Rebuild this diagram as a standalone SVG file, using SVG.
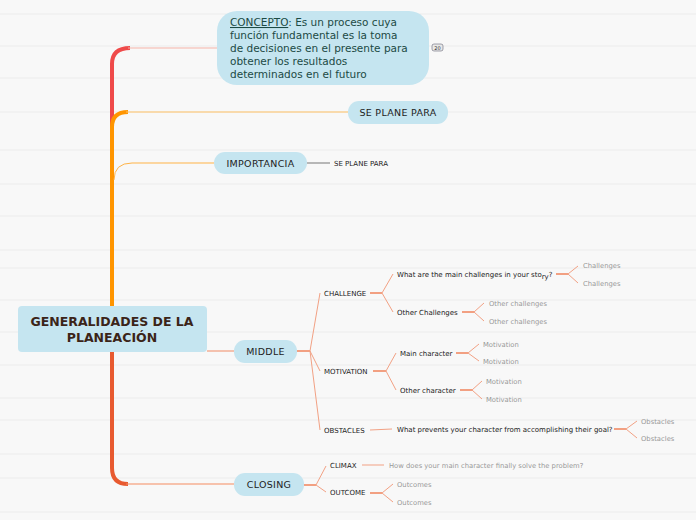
<svg xmlns="http://www.w3.org/2000/svg" width="696" height="520" viewBox="0 0 696 520">
<style>
text{font-family:"DejaVu Sans","Liberation Sans",sans-serif}
.n{fill:#c5e5f0}
.t1{font-size:9.5px;fill:#222;letter-spacing:0.3px}
.t2{font-size:7px;fill:#222}
.t3{font-size:6.8px;fill:#999}
.c{fill:none;stroke:#f2a184;stroke-width:1}
.cb{fill:none;stroke:#f08a64;stroke-width:1.6}
.bg{stroke:#ececec;stroke-width:1}
</style>
<rect width="696" height="520" fill="#f8f8f8"/>
<g id="bg">
<line class="bg" x1="0" y1="14" x2="696" y2="14"/><line class="bg" x1="0" y1="46" x2="696" y2="46"/>
<line class="bg" x1="0" y1="78" x2="696" y2="78"/><line class="bg" x1="0" y1="112" x2="696" y2="112"/>
<line class="bg" x1="0" y1="150" x2="696" y2="150"/><line class="bg" x1="0" y1="184" x2="696" y2="184"/>
<line class="bg" x1="0" y1="216" x2="696" y2="216"/><line class="bg" x1="0" y1="250" x2="696" y2="250"/>
<line class="bg" x1="0" y1="268" x2="696" y2="268"/><line class="bg" x1="0" y1="300" x2="696" y2="300"/>
<line class="bg" x1="0" y1="332" x2="696" y2="332"/><line class="bg" x1="0" y1="365" x2="696" y2="365"/>
<line class="bg" x1="0" y1="398" x2="696" y2="398"/><line class="bg" x1="0" y1="420" x2="696" y2="420"/>
<line class="bg" x1="0" y1="454" x2="696" y2="454"/><line class="bg" x1="0" y1="478" x2="696" y2="478"/>
<line class="bg" x1="0" y1="512" x2="696" y2="512"/>
</g>
<g id="connectors">
<path d="M112 130 V64 Q112 48 130 48" fill="none" stroke="#ef4a4a" stroke-width="4"/>
<path d="M128 48 H217" fill="none" stroke="#f5b3a8" stroke-width="1"/>
<path d="M112 306 V127 Q112 112 128 112" fill="none" stroke="#ff9500" stroke-width="4"/>
<path d="M126 112 H348" fill="none" stroke="#ffc266" stroke-width="1"/>
<path d="M114 180 Q114 163 132 163 H214" fill="none" stroke="#ffb347" stroke-width="1"/>
<path d="M112 352 V468 Q112 484 128 484" fill="none" stroke="#e85a30" stroke-width="4"/>
<path d="M126 484 H234" fill="none" stroke="#f58c60" stroke-width="1"/>
<path d="M207 351 H234" fill="none" stroke="#f08a64" stroke-width="1"/>
<path d="M307 163 H330" stroke="#777" stroke-width="1"/>
<path d="M297 351 H310" class="cb"/>
<path d="M310 351 L320 293 M310 351 L320 371 M310 351 L320 430" class="c"/>
<path d="M370 293 H382" class="cb"/><path d="M382 293 L393 274 M382 293 L393 312" class="c"/>
<path d="M556 274 H568" class="cb"/><path d="M568 274 L578 266 M568 274 L578 283" class="c"/>
<path d="M462 312 H474" class="cb"/><path d="M474 312 L484 303 M474 312 L484 321" class="c"/>
<path d="M373 371 H386" class="cb"/><path d="M386 371 L396 353 M386 371 L396 390" class="c"/>
<path d="M456 353 H468" class="cb"/><path d="M468 353 L479 344 M468 353 L479 361" class="c"/>
<path d="M460 390 H472" class="cb"/><path d="M472 390 L482 381 M472 390 L482 399" class="c"/>
<path d="M370 430 L392 429" class="c"/>
<path d="M614 429 H626" class="cb"/><path d="M626 429 L637 421 M626 429 L637 438" class="c"/>
<path d="M304 485 H316" class="cb"/><path d="M316 485 L326 466 M316 485 L326 492" class="c"/>
<path d="M362 465 L384 465" class="c"/>
<path d="M370 493 H382" class="cb"/><path d="M382 493 L393 484 M382 493 L393 502" class="c"/>
</g>
<g id="root"><rect x="18" y="306" width="189" height="46" rx="4" class="n"/>
<text x="112" y="326" text-anchor="middle" font-size="12.5" font-weight="bold" fill="#3b2418">GENERALIDADES DE LA</text>
<text x="112" y="342" text-anchor="middle" font-size="12.5" font-weight="bold" fill="#3b2418">PLANEACIÓN</text></g>
<g id="concepto"><rect x="217" y="11" width="212" height="74" rx="20" class="n"/>
<g font-size="10.5" fill="#1c4a44">
<text x="230" y="26"><tspan text-decoration="underline">CONCEPTO</tspan>: Es un proceso cuya</text>
<text x="230" y="39">función fundamental es la toma</text>
<text x="230" y="52">de decisiones en el presente para</text>
<text x="230" y="65">obtener los resultados</text>
<text x="230" y="78">determinados en el futuro</text></g>
<rect x="432" y="44" width="11" height="7" rx="2" fill="#e8e8e8" stroke="#667" stroke-width="0.6"/>
<text x="437.5" y="49.5" text-anchor="middle" font-size="5" fill="#333">20</text></g>
<g id="seplane"><rect x="348" y="101" width="100" height="23" rx="11" class="n"/>
<text x="398" y="116" text-anchor="middle" class="t1">SE PLANE PARA</text></g>
<g id="importancia"><rect x="214" y="152" width="93" height="22" rx="11" class="n"/>
<text x="260.5" y="167" text-anchor="middle" class="t1">IMPORTANCIA</text>
<text x="334" y="166" class="t2">SE PLANE PARA</text></g>
<g id="middle"><rect x="234" y="340" width="63" height="23" rx="11" class="n"/>
<text x="265.5" y="355" text-anchor="middle" class="t1">MIDDLE</text>
<text x="324" y="296" class="t2">CHALLENGE</text>
<text x="397" y="277" class="t2">What are the main challenges in your sto<tspan dy="1.5">ry</tspan><tspan dy="-1.5">?</tspan></text>
<text x="583" y="268" class="t3">Challenges</text><text x="583" y="286" class="t3">Challenges</text>
<text x="397" y="315" class="t2">Other Challenges</text>
<text x="489" y="306" class="t3">Other challenges</text><text x="489" y="324" class="t3">Other challenges</text>
<text x="324" y="374" class="t2">MOTIVATION</text>
<text x="400" y="356" class="t2">Main character</text>
<text x="483" y="347" class="t3">Motivation</text><text x="483" y="364" class="t3">Motivation</text>
<text x="400" y="393" class="t2">Other character</text>
<text x="486" y="384" class="t3">Motivation</text><text x="486" y="402" class="t3">Motivation</text>
<text x="324" y="433" class="t2">OBSTACLES</text>
<text x="397" y="432" class="t2">What prevents your character from accomplishing their goal?</text>
<text x="641" y="424" class="t3">Obstacles</text><text x="641" y="441" class="t3">Obstacles</text></g>
<g id="closing"><rect x="234" y="473" width="70" height="23" rx="11" class="n"/>
<text x="269" y="488" text-anchor="middle" class="t1">CLOSING</text>
<text x="330" y="468" class="t2">CLIMAX</text>
<text x="389" y="468" class="t3">How does your main character finally solve the problem?</text>
<text x="330" y="495" class="t2">OUTCOME</text>
<text x="397" y="487" class="t3">Outcomes</text><text x="397" y="505" class="t3">Outcomes</text></g>
</svg>
